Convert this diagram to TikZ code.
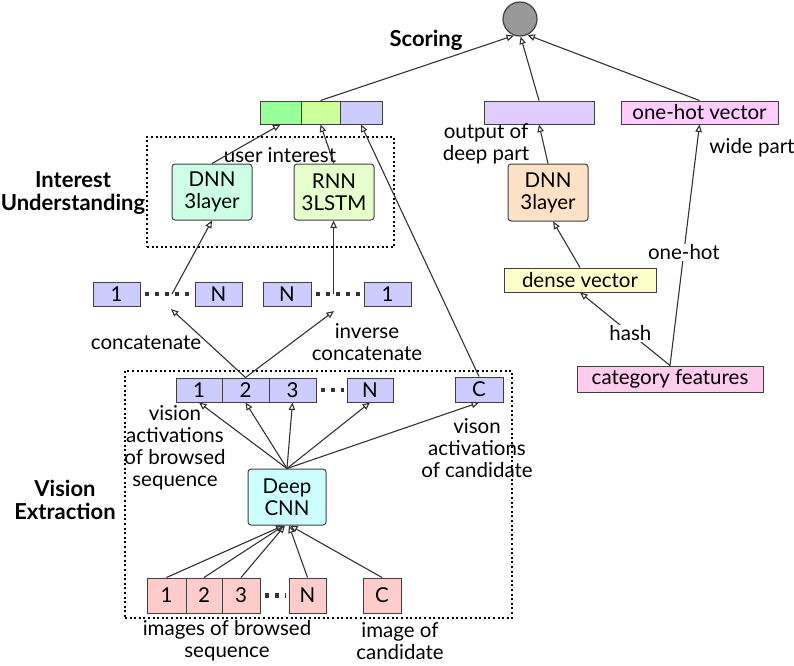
\documentclass[tikz,border=0pt]{standalone}
\usepackage{fontspec}
\setmainfont{Lato}
\usetikzlibrary{arrows.meta}
\definecolor{bordc}{HTML}{404040}
\definecolor{linec}{HTML}{333333}
\definecolor{cGreen}{HTML}{99FF99}
\definecolor{cLime}{HTML}{CCFF99}
\definecolor{cBlue}{HTML}{CCCCFF}
\definecolor{cMint}{HTML}{CCFFE6}
\definecolor{cPale}{HTML}{E6FFCC}
\definecolor{cCyan}{HTML}{CCFFFF}
\definecolor{cRose}{HTML}{FFCCCC}
\definecolor{cPurple}{HTML}{E0CCFF}
\definecolor{cMag}{HTML}{FFCCFF}
\definecolor{cOrange}{HTML}{FFE2C6}
\definecolor{cYellow}{HTML}{FFFFCC}
\definecolor{cPink}{HTML}{FFCCEE}
\newcommand\myfs{\fontsize{20.5}{22}\selectfont}
\newcommand\myfsb{\fontsize{22}{23.5}\selectfont\bfseries}
\begin{document}
\begin{tikzpicture}[x=1pt,y=-1pt,
  vec/.style={draw=bordc, line width=1pt, inner sep=0pt, font=\myfs},
  proc/.style={draw=bordc, line width=1pt, inner sep=0pt, rounded corners=3pt, align=center, font=\myfs, minimum width=80, minimum height=56},
  lab/.style={inner sep=0pt, align=center, font=\myfs},
  blab/.style={inner sep=0pt, align=center, font=\myfsb},
  dotbox/.style={draw=black, line width=2pt, dash pattern=on 2pt off 2.6pt, inner sep=0pt},
  bigdots/.style={draw=bordc!80!black, line width=4.5pt, dash pattern=on 4.5pt off 5.5pt, shorten <=4pt, shorten >=3pt},
  arr/.style={draw=linec, line width=1.1pt, -{Triangle[open, length=7.5pt, width=6.5pt]}},
  ln/.style={draw=linec, line width=1.1pt}
]
\useasboundingbox (0,0) rectangle (794,665);

% scoring
\node[circle, draw=bordc, fill=black!40, line width=1.2pt, minimum size=34, inner sep=0pt] (score) at (520,19) {};
\node[blab] (scoring) at (426,40) {Scoring};

% top combined vector
\node[vec, fill=cGreen, minimum width=41, minimum height=23] (tb1) at (280.5,112.5) {};
\node[vec, fill=cLime, minimum width=39, minimum height=23] (tb2) at (320.5,112.5) {};
\node[vec, fill=cBlue, minimum width=42, minimum height=23] (tb3) at (361,112.5) {};

% interest understanding
\node[dotbox, minimum width=247, minimum height=110] (ibox) at (270.5,192) {};
\node[lab] (ui) at (280,155) {user interest};
\node[proc, fill=cMint] (dnn1) at (212,192) {DNN\\3layer};
\node[proc, fill=cPale] (rnn) at (334,192) {RNN\\3LSTM};
\node[blab] (iu) at (73,193) {Interest\\Understanding};

% concatenated rows
\node[vec, fill=cBlue, minimum width=47, minimum height=24] (c1) at (116.5,294) {1};
\node[vec, fill=cBlue, minimum width=47, minimum height=24] (cN) at (218.5,294) {N};
\node[vec, fill=cBlue, minimum width=48, minimum height=24] (rN) at (287,294) {N};
\node[vec, fill=cBlue, minimum width=47, minimum height=24] (r1) at (387.5,294) {1};
\draw[bigdots] (c1.east) -- (cN.west);
\draw[bigdots] (rN.east) -- (r1.west);
\coordinate (cj) at (172,294);
\coordinate (rj) at (333.6,294);
\coordinate (cjb) at (171,309);
\coordinate (rjb) at (334,311);
\draw[arr] (cj) -- (dnn1.south);
\draw[arr] (rj) -- (rj |- rnn.south);
\node[lab] (concat) at (146,343) {concatenate};
\node[lab] (iconcat) at (367,342.5) {inverse\\concatenate};

% vision extraction
\node[dotbox, minimum width=387, minimum height=247] (vbox) at (318.5,494.5) {};
\node[vec, fill=cBlue, minimum width=46, minimum height=24] (v1) at (199,390) {1};
\node[vec, fill=cBlue, minimum width=47, minimum height=24] (v2) at (245.5,390) {2};
\node[vec, fill=cBlue, minimum width=47, minimum height=24] (v3) at (292.5,390) {3};
\node[vec, fill=cBlue, minimum width=46, minimum height=24] (vN) at (370,390) {N};
\node[vec, fill=cBlue, minimum width=48, minimum height=25] (vC) at (479,389.5) {C};
\draw[bigdots] (v3.east) -- (vN.west);
\node[lab] (vab) at (175,448) {vision\\activations\\of browsed\\sequence};
\node[lab] (vac) at (477,448) {vison\\activations\\of candidate};
\node[proc, fill=cCyan, minimum width=78] (cnn) at (287,497) {Deep\\CNN};
\node[blab] (ve) at (65,500) {Vision\\Extraction};

\node[vec, fill=cRose, minimum width=39, minimum height=35] (i1) at (166.5,595.5) {1};
\node[vec, fill=cRose, minimum width=36, minimum height=35] (i2) at (204,595.5) {2};
\node[vec, fill=cRose, minimum width=38, minimum height=35] (i3) at (241,595.5) {3};
\node[vec, fill=cRose, minimum width=37, minimum height=35] (iN) at (307.5,595.5) {N};
\node[vec, fill=cRose, minimum width=38, minimum height=35] (iC) at (382,595.5) {C};
\draw[bigdots] (i3.east) -- (iN.west);
\node[lab] (ilb) at (227,641) {images of browsed\\sequence};
\node[lab] (ilc) at (400,641) {image of\\candidate};

% wide & deep part
\node[vec, fill=cPurple, minimum width=110, minimum height=23] (outp) at (539,112.5) {};
\node[vec, fill=cMag, minimum width=157, minimum height=23] (onehot) at (699.5,112.5) {one-hot vector};
\node[lab] (outlab) at (486,144) {output of\\deep part};
\node[lab] (wide) at (752,148) {wide part};
\node[proc, fill=cOrange, minimum height=57] (dnn2) at (548,192.5) {DNN\\3layer};
\node[vec, fill=cYellow, minimum width=152, minimum height=24] (dense) at (580,280) {dense vector};
\node[vec, fill=cPink, minimum width=186, minimum height=26] (cat) at (670,379) {category features};

% connectors
\draw[arr] (tb2.north) -- (score.250);
\draw[arr] (outp.north) -- (score.272);
\draw[arr] (onehot.north) -- (score.295);
\draw[arr] (dnn1.north) -- (tb1.south);
\draw[arr] (rnn.north) -- (tb2.south);
\draw[arr] (vC.north) -- (tb3.south);
\draw[arr] (v2.north) -- (cjb);
\draw[arr] (v2.north) -- (rjb);
\foreach \t in {v1,v2,v3,vN,vC} \draw[arr] (cnn.north) -- (\t.south);
\foreach \s/\a in {i1/-97,i2/-96,i3/-94,iN/-86,iC/-84} \draw[arr] (\s.north) -- (cnn.\a);
\draw[arr] (dnn2.north) -- (outp.south);
\draw[arr] (dense.north) -- (dnn2.-80);
\draw[arr] (cat.north) -- node[pos=0.44, fill=white, lab, inner sep=1pt] (hash) {hash} (dense.south);
\draw[arr] (cat.north) -- node[pos=0.47, fill=white, lab, inner sep=1pt] (oh) {one-hot} (onehot.south);
\end{tikzpicture}
\end{document}
